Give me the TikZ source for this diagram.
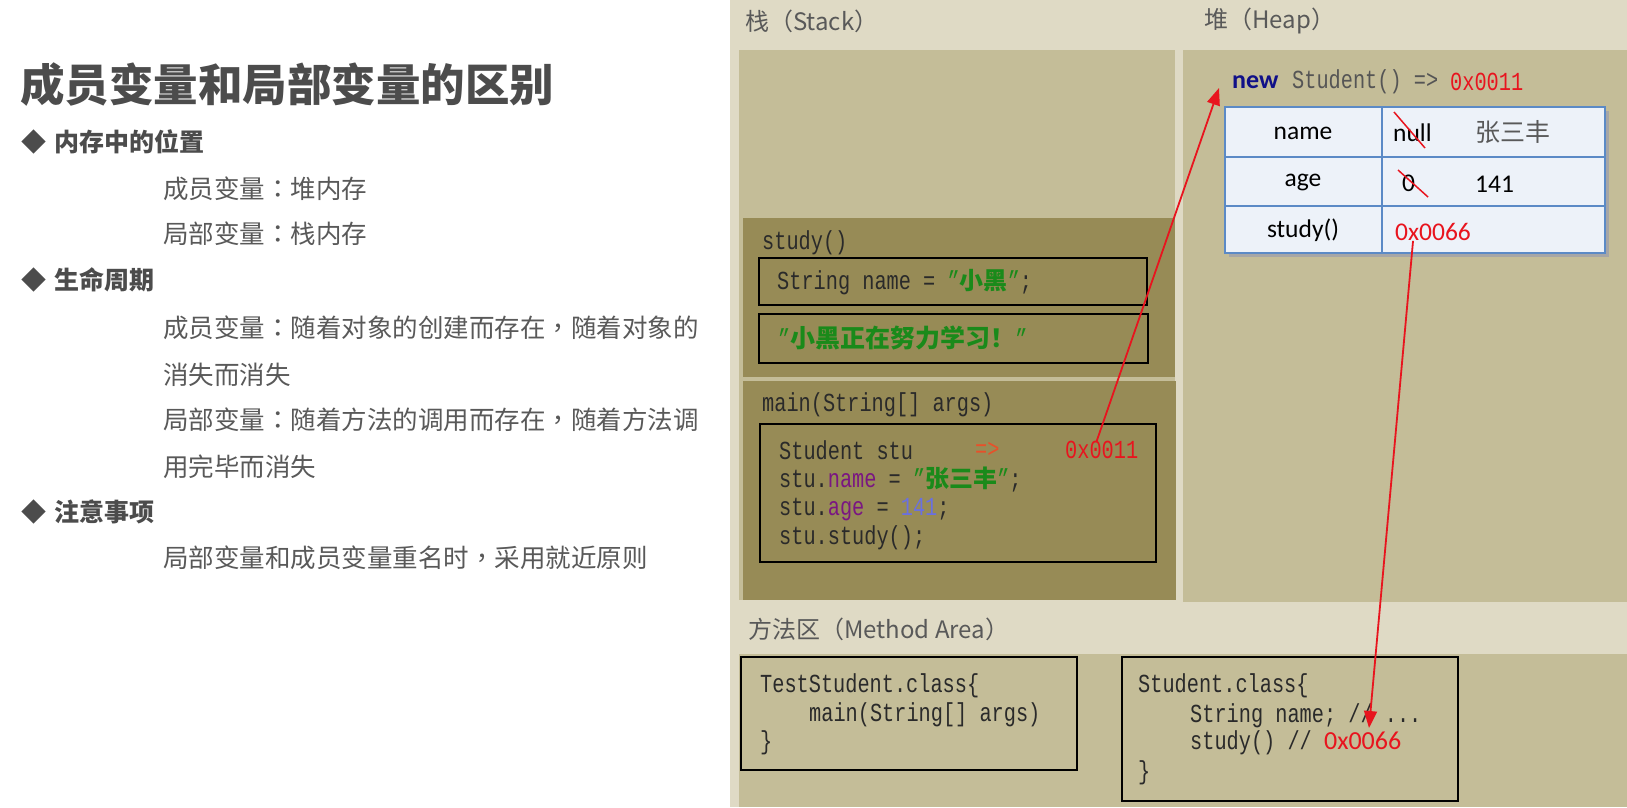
\documentclass[tikz,border=0pt]{standalone}
\usepackage{fontspec}
\setmainfont{Liberation Serif}
\newfontfamily\cjk{Noto Sans CJK SC}
\newfontfamily\cjktc{Noto Sans CJK TC}
\newfontfamily\codefont{Liberation Mono}[FakeStretch=0.78]
\newfontfamily\calib{Carlito}
\usetikzlibrary{arrows.meta}

\definecolor{txtgray}{HTML}{595959}
\definecolor{paneback}{HTML}{DFDAC5}
\definecolor{areafill}{HTML}{C4BD98}
\definecolor{framefill}{HTML}{978B56}
\definecolor{codegray}{HTML}{2A2A2A}
\definecolor{strgreen}{HTML}{1A8A1A}
\definecolor{fieldpurple}{HTML}{7A1682}
\definecolor{numblue}{HTML}{6A70E0}
\definecolor{addrred}{HTML}{E8141E}
\definecolor{arroworange}{HTML}{E8502A}
\definecolor{tableblue}{HTML}{5B8AC6}
\definecolor{cellfill}{HTML}{EDF2F9}
\definecolor{newblue}{HTML}{101088}

\tikzset{
  titletext/.style={anchor=west, inner sep=0pt, text=txtgray!85!black, font=\cjk\bfseries\fontsize{44.5}{50}\selectfont},
  headtext/.style={anchor=west, inner sep=0pt, text=txtgray!85!black, font=\cjk\bfseries\fontsize{25}{30}\selectfont},
  itemtext/.style={anchor=west, inner sep=0pt, text=txtgray, font=\cjk\fontsize{25.5}{30}\selectfont},
  areatext/.style={anchor=west, inner sep=0pt, text=txtgray, font=\cjk\fontsize{24}{28}\selectfont},
  codetext/.style={anchor=west, inner sep=0pt, text=codegray, font=\codefont\fontsize{26}{30}\selectfont},
  celltext/.style={inner sep=0pt, text=black, font=\calib\fontsize{25.5}{30}\selectfont},
  codebox/.style={draw=black, line width=2pt},
  addrlink/.style={draw=addrred, line width=1.8pt, -{Triangle[length=17pt,width=13pt]}},
  strike/.style={draw=addrred, line width=1.5pt},
}

\begin{document}
\begin{tikzpicture}[x=1pt, y=-1pt]
  \useasboundingbox (0,0) rectangle (1627,807);
  \fill[white] (0,0) rectangle (730,807);
  \fill[paneback] (730,0) rectangle (1627,807);

  % left column
  \node[titletext] (title) at (20,85) {成员变量和局部变量的区别};
  \node[headtext] (b1) at (21,142) {◆};
  \node[headtext] (place) at (54,142) {内存中的位置};
  \node[itemtext] (place1) at (163,189) {成员变量{\cjktc ：}堆内存};
  \node[itemtext] (place2) at (163,234) {局部变量{\cjktc ：}栈内存};
  \node[headtext] (b2) at (21,280) {◆};
  \node[headtext] (life) at (54,280) {生命周期};
  \node[itemtext] (life1) at (163,328) {成员变量{\cjktc ：}随着对象的创建而存在{\cjktc ，}随着对象的};
  \node[itemtext] (life1b) at (163,375) {消失而消失};
  \node[itemtext] (life2) at (163,420) {局部变量{\cjktc ：}随着方法的调用而存在{\cjktc ，}随着方法调};
  \node[itemtext] (life2b) at (163,467) {用完毕而消失};
  \node[headtext] (b3) at (21,512) {◆};
  \node[headtext] (note) at (54,512) {注意事项};
  \node[itemtext] (note1) at (163,558) {局部变量和成员变量重名时{\cjktc ，}采用就近原则};

  % areas
  \fill[areafill] (739,50) rectangle (1175,600);
  \fill[areafill] (1183,50) rectangle (1627,602);
  \fill[areafill] (739,654) rectangle (1627,807);
  \node[areatext] (stacklbl) at (745,21) {栈（Stack）};
  \node[areatext] (heaplbl) at (1204,21) {堆（Heap）};
  \node[areatext] (methodlbl) at (748,629) {方法区（Method Area）};

  % stack frames
  \fill[framefill] (743,218) rectangle (1175,377);
  \fill[framefill] (743,381) rectangle (1176,600);
  \node[codetext] (studyfn) at (762,243) {study()};
  \draw[codebox] (759,258) rectangle (1147,305);
  \node[codetext] (nameloc) at (777,282) {String name = {\color{strgreen}”{\cjk\bfseries\fontsize{24}{28}\selectfont 小黑}”};};
  \draw[codebox] (759,314) rectangle (1148,363);
  \node[codetext, text=strgreen] (saying) at (778,338) {”{\cjk\bfseries\fontsize{25}{28}\selectfont 小黑正在努力学习！}”};

  \node[codetext] (mainfn) at (762,405) {main(String[] args)};
  \draw[codebox] (760,424) rectangle (1156,562);
  \node[codetext] (stuline) at (779,450) {Student stu};
  \node[codetext, text=arroworange] (stuarrow) at (975,450) {=>};
  \node[codetext, text=addrred] (stuaddr) at (1065,450) {0x0011};
  \node[codetext] (nameline) at (779,480) {stu.{\color{fieldpurple}name} = {\color{strgreen}”{\cjk\bfseries\fontsize{24}{28}\selectfont 张三丰}”};};
  \node[codetext] (ageline) at (779,510) {stu.{\color{fieldpurple}age} = {\color{numblue}141};};
  \node[codetext] (callline) at (779,538) {stu.study();};

  % heap object
  \node[anchor=west, inner sep=0pt, text=newblue, font=\calib\bfseries\fontsize{26}{30}\selectfont] (newkw) at (1232,82) {new};
  \node[codetext, text=codegray!80] (newcall) at (1292,82) {Student() =>};
  \node[codetext, text=addrred] (newaddr) at (1450,82) {0x0011};
  \coordinate (newtip) at (1219,88);

  \fill[gray!70] (1229,111) rectangle (1609,257);
  \filldraw[fill=cellfill, draw=tableblue, line width=2pt] (1225,107) rectangle (1605,253);
  \draw[tableblue, line width=2pt] (1382,107) -- (1382,253);
  \draw[tableblue, line width=2pt] (1225,157) -- (1605,157);
  \draw[tableblue, line width=2pt] (1225,206) -- (1605,206);
  \node[celltext] (fname) at (1303,133) {name};
  \node[celltext] (fage) at (1303,182) {age};
  \node[celltext] (fstudy) at (1303,230) {study()};
  \node[celltext, anchor=west] (nullval) at (1393,133) {null};
  \node[anchor=west, inner sep=0pt, text=txtgray, font=\cjk\fontsize{25}{30}\selectfont] (nameval) at (1475,132) {张三丰};
  \node[celltext, anchor=west] (zeroval) at (1402,183) {0};
  \node[celltext, anchor=west] (ageval) at (1475,184) {141};
  \node[celltext, anchor=west, text=addrred] (heapaddr) at (1395,232) {0x0066};
  \draw[strike] (1394,112) -- (1425,148);
  \draw[strike] (1398,170) -- (1428,197);

  % method area
  \draw[codebox] (741,657) rectangle (1077,770);
  \node[codetext] (tsclass) at (760,686) {TestStudent.class\{};
  \node[codetext] (tsmain) at (809,715) {main(String[] args)};
  \node[codetext] (tsend) at (760,743) {\}};
  \draw[codebox] (1122,657) rectangle (1458,801);
  \node[codetext] (sclass) at (1138,686) {Student.class\{};
  \node[codetext] (sname) at (1190,716) {String name; // ...};
  \node[codetext] (sstudy) at (1190,743) {study() // {\calib\color{addrred}0x0066}};
  \node[codetext] (send) at (1138,773) {\}};
  \coordinate (methodtip) at (1369,728);

  % references
  \draw[addrlink] ([xshift=-5pt]stuaddr.north) -- (newtip);
  \draw[addrlink] ([xshift=-20pt]heapaddr.south) -- (methodtip);
\end{tikzpicture}
\end{document}
